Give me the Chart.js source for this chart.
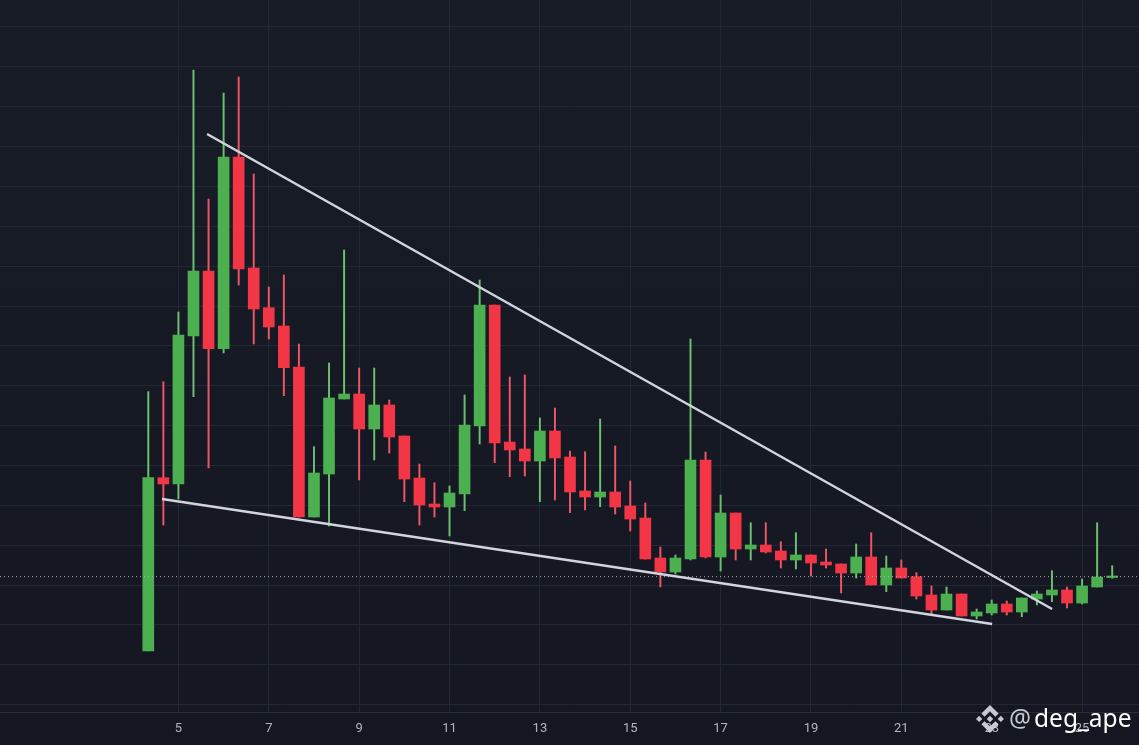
<!DOCTYPE html>
<html>
<head>
<meta charset="utf-8">
<title>Falling wedge</title>
<script src="https://cdn.jsdelivr.net/npm/chart.js@4/dist/chart.umd.min.js"></script>
<style>
  html, body { margin: 0; padding: 0; background: #161a25; overflow: hidden; }
  #wrap { position: relative; width: 1139px; height: 745px; }
  #logo { position: absolute; left: 976px; top: 705px; width: 28px; height: 28px; fill: #d5d8de; opacity: .92; }
  #mark { position: absolute; left: 1009px; top: 701px; font: 24.5px "Noto Sans", sans-serif; color: #fff; white-space: nowrap; line-height: 34px; }
  #mark span { color: #c4c8d0; margin-right: 3px; }
</style>
</head>
<body>
<div id="wrap">
  <canvas id="chart" width="1139" height="745"></canvas>
  <svg id="logo" viewBox="0 0 127 127"><path d="M38.73 53.2l24.59-24.58 24.6 24.6 14.3-14.31L63.32 0 24.43 38.88zM0 63.31l14.3-14.31 14.31 14.31-14.31 14.3zM38.73 73.41l24.59 24.59 24.6-24.6 14.31 14.29-38.9 38.91-38.91-38.88v-.03zM98.28 63.31l14.3-14.3 14.31 14.3-14.31 14.31zM77.83 63.3L63.32 48.78 48.81 63.28l14.51 14.5z"/></svg>
  <div id="mark"><span>@</span>deg_ape</div>
</div>
<script>
// no price axis is visible in the picture, so prices are in an estimated unit
const opens  = [94, 267.3, 261, 409, 474, 396.3, 588, 477, 437.3, 419, 378, 228, 271, 346, 351, 316, 340, 309, 267, 241, 238, 251, 319, 440, 303, 296, 284, 314, 288, 254, 248, 253, 239, 227, 187, 173, 186, 285, 188, 232, 196, 200, 194, 185, 190, 183, 181, 172, 188, 160, 177, 168.3, 150, 135, 151, 129, 132, 141, 133, 146, 150, 155, 142, 158, 167.5];
const closes = [267.3, 261, 410, 474, 396.3, 588, 476, 436, 418, 377.3, 228, 272, 347, 351, 316, 340, 308, 266, 240, 238, 252, 320, 440, 302, 295, 284, 314, 287, 253, 248, 253, 238, 226, 186, 173, 187, 285, 188, 232, 196, 200, 193, 185, 190, 182, 180, 172, 188, 160, 177, 167, 149, 135, 151, 129, 133, 141, 133, 147, 151, 155, 142, 159, 168, 169];
const highs  = [353.3, 363.3, 433, 675, 546, 652, 668, 571, 458, 470, 401, 298.3, 382, 495, 377, 377, 345, 309, 281, 262.3, 259, 350, 465, 440, 368, 370, 327, 337, 294, 293.3, 326, 299, 264, 242, 198, 190, 406, 293, 250, 232, 222.3, 222.3, 203.3, 212.3, 190, 196, 181, 201, 212.3, 189, 185, 172.3, 159, 158, 151, 136, 145, 144, 147, 154, 174.3, 158, 166, 222.3, 179.3];
const lows   = [94, 220, 246, 348.3, 277, 392, 460, 401, 406, 349.3, 228, 228, 219, 346, 265, 285, 292, 243.3, 220, 228, 209, 234.3, 301, 282.3, 268.3, 269, 243.3, 245, 232.3, 235, 238.3, 231, 214, 186, 158, 171, 185, 187, 174, 185, 185, 192, 177, 176, 169, 177, 152, 167, 160, 153.3, 167, 146, 131, 135, 129, 126, 130, 130, 128.3, 140, 143.3, 137, 141, 158, 166.7];

const dayTicks = [2, 8, 14, 20, 26, 32, 38, 44, 50, 56, 62];
const dayLabels = ['5', '7', '9', '11', '13', '15', '17', '19', '21', '23', '25'];
const priceGrid = [40.4, 80.3, 120.1, 160, 199.8, 239.7, 279.6, 319.4, 359.3, 399.1, 439, 478.9, 518.7, 558.6, 598.4, 638.3, 678.2, 718];
const lastPrice = 168.3;

const upperTrendX = [3.9, 60.01];
const upperTrendY = [611, 136];
const lowerTrendX = [0.91, 56.03];
const lowerTrendY = [246, 121];

const xMin = -9.847;
const xMax = 65.78;
const UP = '#4caf50';
const DOWN = '#f23645';

const candleColors = opens.map((o, i) => closes[i] >= o ? UP : DOWN);
const wickColors = candleColors.map(c => c === UP ? '#6cc070' : '#ef5566');
const zip = (xs, ys) => xs.map((x, i) => ({ x: x, y: ys[i] }));
const bodies = opens.map((o, i) => ({ x: i, y: [Math.min(o, closes[i]), Math.max(o, closes[i])] }));
const wicks = highs.map((h, i) => ({ x: i, y: [lows[i], h] }));

const trendStyle = { type: 'line', borderColor: '#d1d4dc', borderWidth: 2.5, pointRadius: 0, tension: 0, order: 1 };

new Chart(document.getElementById('chart'), {
    type: 'bar',
    data: {
        datasets: [
            { label: 'wick', data: wicks, backgroundColor: wickColors, barThickness: 1.3, grouped: false, order: 4 },
            { label: 'body', data: bodies, backgroundColor: candleColors, barThickness: 11, grouped: false, order: 3 },
            {
                type: 'line', label: 'last', data: zip([xMin, xMax], [lastPrice, lastPrice]),
                borderColor: '#aeb2bb', borderWidth: 1, borderDash: [1, 3], pointRadius: 0, order: 2
            },
            { ...trendStyle, label: 'upper', data: zip(upperTrendX, upperTrendY) },
            { ...trendStyle, label: 'lower', data: zip(lowerTrendX, lowerTrendY) }
        ]
    },
    options: {
        responsive: false,
        animation: false,
        layout: { padding: 0 },
        plugins: { legend: { display: false }, tooltip: { enabled: false } },
        scales: {
            x: {
                type: 'linear',
                min: xMin,
                max: xMax,
                offset: false,
                afterBuildTicks: (scale) => { scale.ticks = dayTicks.map(v => ({ value: v })); },
                afterFit: (scale) => { scale.height = 33; },
                grid: { color: '#232733', lineWidth: 1, offset: false, drawTicks: false },
                border: { display: true, color: '#2b2f3a' },
                ticks: {
                    autoSkip: false,
                    maxRotation: 0,
                    padding: 9,
                    color: '#b2b5be',
                    font: { family: 'Roboto', size: 13 },
                    callback: (value) => dayLabels[dayTicks.indexOf(value)]
                }
            },
            y: {
                type: 'linear',
                min: 33,
                max: 745,
                afterBuildTicks: (scale) => { scale.ticks = priceGrid.map(v => ({ value: v })); },
                afterFit: (scale) => { scale.width = 0; },
                grid: { color: '#232733', lineWidth: 1, drawTicks: false },
                border: { display: false },
                ticks: { display: false }
            }
        }
    },
    plugins: [{
        id: 'background',
        beforeDraw: (chart) => {
            const ctx = chart.ctx;
            const fade = ctx.createLinearGradient(0, 0, 0, chart.height);
            fade.addColorStop(0, '#181c27');
            fade.addColorStop(1, '#141722');
            ctx.save();
            ctx.fillStyle = fade;
            ctx.fillRect(0, 0, chart.width, chart.height);
            ctx.restore();
        }
    }]
});
</script>
</body>
</html>
